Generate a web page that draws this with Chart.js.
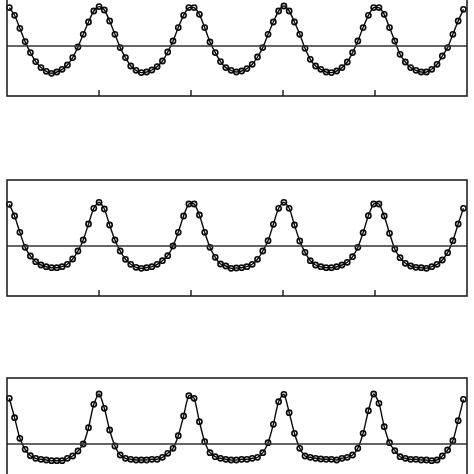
<!DOCTYPE html>
<html>
<head>
<meta charset="utf-8">
<script src="https://cdn.jsdelivr.net/npm/chart.js@4/dist/chart.umd.min.js"></script>
<style>
  html, body { margin: 0; padding: 0; background: #fff; overflow: hidden; }
  body { width: 474px; height: 474px; position: relative; }
  .panel { position: absolute; left: 0; width: 474px; height: 128px; }
  .panel canvas { display: block; }
</style>
</head>
<body>
<div class="panel" id="p1" style="top:-26px"><canvas id="c1" width="474" height="128"></canvas></div>
<div class="panel" id="p2" style="top:174px"><canvas id="c2" width="474" height="128"></canvas></div>
<div class="panel" id="p3" style="top:372px"><canvas id="c3" width="474" height="128"></canvas></div>
<script>
// ---- data ----
const sampleStart = 0.025;   // time of first sample (tick units)
const sampleStep = 0.0574;   // time between samples (tick units)
const xRange = [0, 5];
const xTicks = [1, 2, 3, 4];
const yRange = [-50, 66];

const series1 = [38.4, 30.7, 17.7, 4.4, -6.6, -15.6, -21.6, -25.3, -27.3, -26, -23.3, -19, -11.6, -1, 11.7, 24, 35, 39.4, 36, 25,
  11.7, -1.6, -11.6, -20, -24.3, -26.6, -26, -24, -20.6, -15, -6, 5, 18.4, 30.7, 38.4, 38.4, 31.7, 18.4, 4, -6.6,
  -15.6, -21.6, -24.3, -26, -25, -22.6, -18.3, -11, -1.6, 11.7, 24, 35, 40, 35, 24, 11.7, -2.3, -13.3, -20, -23.3,
  -26, -26.6, -25, -21.6, -16, -6.6, 5, 18.4, 30.7, 38.4, 38.4, 31.7, 18.4, 5, -8.3, -16, -21.6, -24.3, -26, -26,
  -23.3, -18.3, -10, -1.6, 11.7, 25, 36.7];

const series2 = [41.7, 30, 13.7, -1.3, -10, -15.7, -19, -20.7, -21.7, -21.7, -20.7, -18.3, -13, -5, 6, 22, 37.7, 43.7, 37, 21,
  6, -5, -13.3, -18.3, -21.3, -22.3, -21.7, -20.7, -18.3, -14.7, -9.7, 0, 13.7, 30, 42, 42, 31, 13.7, -1.3, -11.3,
  -18, -20, -22.3, -22, -21.7, -20.7, -18.3, -13.3, -5, 5.3, 21.7, 37.7, 43.7, 37.7, 21, 5, -6.3, -14.7, -19, -20.7,
  -21.7, -21.7, -20.7, -19, -16.3, -10.7, -1.3, 13.3, 30.3, 42, 42, 30, 12.7, -3, -11.7, -17.3, -20, -21.3, -21.7, -22.3,
  -20.7, -18.3, -14, -6.7, 5.3, 22, 37.7];

const series3 = [45.7, 26.3, 5.7, -5.3, -11.7, -14.3, -15.3, -16, -16.7, -16.7, -16.7, -14.3, -12, -7, 0, 16.3, 39.7, 50, 35.7, 14,
  -2, -11, -14.3, -15.3, -16, -16, -16, -15.3, -15.3, -13.3, -9.3, -4.3, 8.3, 28, 48.3, 45.7, 22.3, 2.3, -8.7, -12.7,
  -14.3, -15.3, -16, -16, -15.3, -15.3, -14.3, -13.3, -8.7, 1.3, 19.7, 42.3, 49.7, 31.3, 10.7, -4.3, -12, -13.3, -14.3, -15,
  -15.3, -15.3, -16, -14.3, -13.3, -11, -4.3, 10.7, 33.3, 50, 40.7, 17.3, 1.3, -6.7, -12.7, -14.3, -15.3, -15.3, -16, -16,
  -16.7, -16, -12, -6, 3.3, 23.3, 44.7];

// ---- plotting ----
function toPoints(values) {
  return values.map((v, i) => ({ x: sampleStart + i * sampleStep, y: v }));
}

const framePlugin = {
  id: 'frame',
  afterDatasetsDraw(chart) {
    const { ctx, chartArea: a, scales } = chart;
    ctx.save();
    // zero line
    const y0 = scales.y.getPixelForValue(0);
    ctx.strokeStyle = '#333';
    ctx.lineWidth = 1.6;
    ctx.beginPath();
    ctx.moveTo(a.left, y0);
    ctx.lineTo(a.right, y0);
    ctx.stroke();
    // frame
    ctx.strokeStyle = '#222';
    ctx.lineWidth = 1.6;
    ctx.strokeRect(a.left, a.top, a.right - a.left, a.bottom - a.top);
    // inward ticks on the bottom edge
    ctx.lineWidth = 1.5;
    xTicks.forEach(t => {
      const x = scales.x.getPixelForValue(t);
      ctx.beginPath();
      ctx.moveTo(x, a.bottom);
      ctx.lineTo(x, a.bottom - 6);
      ctx.stroke();
    });
    ctx.restore();
  }
};

function makeChart(id, values) {
  new Chart(document.getElementById(id), {
    type: 'line',
    data: {
      datasets: [{
        data: toPoints(values),
        borderColor: '#0a0a0a',
        borderWidth: 1.4,
        tension: 0.25,
        pointRadius: 2.6,
        pointBorderWidth: 1.6,
        pointBorderColor: '#0a0a0a',
        pointBackgroundColor: 'rgba(255,255,255,0)',
        clip: 6
      }]
    },
    options: {
      responsive: false,
      animation: false,
      devicePixelRatio: 1,
      layout: { padding: { left: 7, right: 7, top: 6, bottom: 6 } },
      plugins: { legend: { display: false }, tooltip: { enabled: false } },
      scales: {
        x: { type: 'linear', min: xRange[0], max: xRange[1], display: false },
        y: { type: 'linear', min: yRange[0], max: yRange[1], display: false }
      }
    },
    plugins: [framePlugin]
  });
}

makeChart('c1', series1);
makeChart('c2', series2);
makeChart('c3', series3);
</script>
</body>
</html>
